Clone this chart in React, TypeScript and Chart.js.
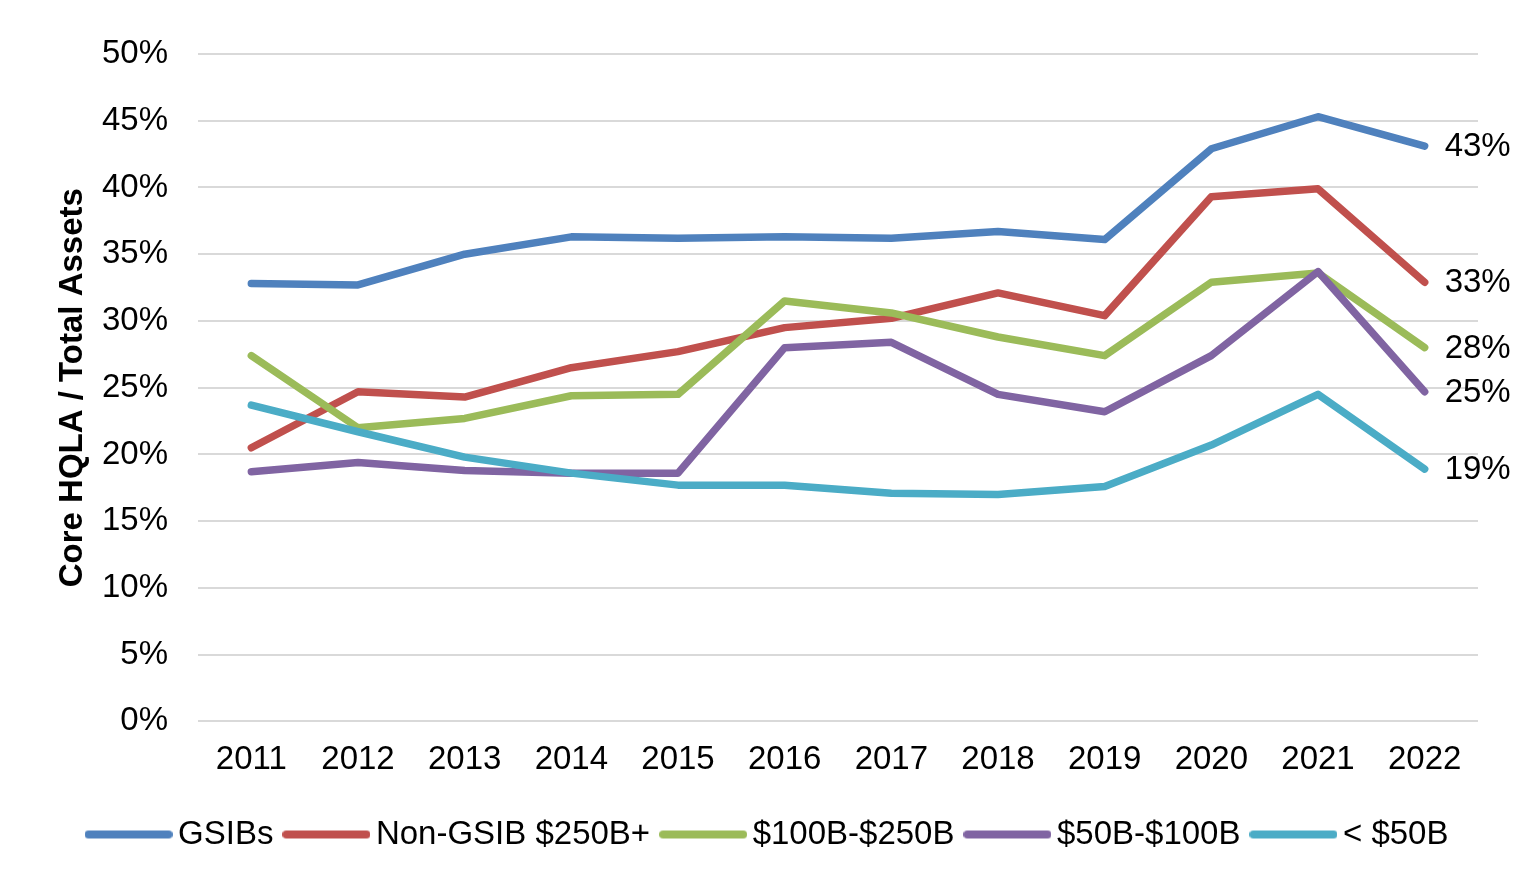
import { useEffect, useRef } from 'react';
import Chart from 'chart.js/auto';

const years = ['2011', '2012', '2013', '2014', '2015', '2016', '2017', '2018', '2019', '2020', '2021', '2022'];

const gsibs = [32.8, 32.7, 35.0, 36.3, 36.2, 36.3, 36.2, 36.7, 36.1, 42.9, 45.3, 43.1];
const nonGsib250 = [20.5, 24.7, 24.3, 26.5, 27.7, 29.5, 30.2, 32.1, 30.4, 39.3, 39.9, 32.9];
const mid100to250 = [27.4, 22.0, 22.7, 24.4, 24.5, 31.5, 30.6, 28.8, 27.4, 32.9, 33.6, 28.0];
const mid50to100 = [18.7, 19.4, 18.8, 18.6, 18.6, 28.0, 28.4, 24.5, 23.2, 27.4, 33.7, 24.7];
const under50 = [23.7, 21.7, 19.8, 18.6, 17.7, 17.7, 17.1, 17.0, 17.6, 20.7, 24.5, 18.9];

const seriesNames = ['GSIBs', 'Non-GSIB $250B+', '$100B-$250B', '$50B-$100B', '< $50B'];
const seriesColors = ['#4F81BD', '#C0504D', '#9BBB59', '#8064A2', '#4BACC6'];
const seriesValues = [gsibs, nonGsib250, mid100to250, mid50to100, under50];

const FONT = '"Liberation Sans", Arial, sans-serif';
const FS = 33;

// legend swatch: a thick round-capped line, a bit wider than the legend box
// so it sits close to its text like Excel does
function swatch(color: string) {
    const c = document.createElement('canvas');
    c.width = 88;
    c.height = 12;
    const g = c.getContext('2d')!;
    g.strokeStyle = color;
    g.lineWidth = 8;
    g.lineCap = 'round';
    g.beginPath();
    g.moveTo(4, 6);
    g.lineTo(84, 6);
    g.stroke();
    return c;
}

// writes the last value of each series to the right of its line end
const endLabels = {
    id: 'endLabels',
    afterLayout(chart: any) {
        // the legend is centred on the whole page in the original, not the padded box
        if (chart.legend) {
            chart.legend.left += 13;
            chart.legend.right += 13;
        }
    },
    afterDatasetsDraw(chart: any) {
        const ctx = chart.ctx;
        ctx.save();
        ctx.font = `${FS}px ${FONT}`;
        ctx.fillStyle = '#000';
        ctx.textAlign = 'left';
        ctx.textBaseline = 'middle';
        chart.data.datasets.forEach((ds: any, i: number) => {
            const meta = chart.getDatasetMeta(i);
            const pt = meta.data[meta.data.length - 1];
            if (!pt) return;
            const v = ds.data[ds.data.length - 1];
            ctx.fillText(`${Math.round(v)}%`, pt.x + 20, pt.y + 1);
        });
        ctx.restore();
    },
};

export default function App() {
    const canvasRef = useRef<HTMLCanvasElement | null>(null);
    useEffect(() => {
        if (!canvasRef.current) return;
        const ctx = canvasRef.current.getContext('2d');
        if (!ctx) return;
        const swatches = seriesColors.map(swatch);
        const chart = new Chart(ctx, {
            type: 'line',
            data: {
                labels: years,
                datasets: seriesNames.map((name, i) => ({
                    label: name,
                    data: seriesValues[i],
                    borderColor: seriesColors[i],
                    backgroundColor: seriesColors[i],
                    borderWidth: 7.5,
                    borderCapStyle: 'round' as const,
                    borderJoinStyle: 'round' as const,
                    pointRadius: 0,
                    tension: 0,
                    order: seriesNames.length - i,
                })),
            },
            options: {
                animation: false,
                responsive: false,
                devicePixelRatio: 1,
                layout: { padding: { left: 40, right: 58, top: 54, bottom: 35 } },
                plugins: {
                    tooltip: { enabled: false },
                    legend: {
                        position: 'bottom',
                        labels: {
                            usePointStyle: true,
                            pointStyleWidth: 66,
                            padding: 20,
                            color: '#000',
                            font: { family: FONT, size: FS },
                            sort: (a: any, b: any) => a.datasetIndex - b.datasetIndex,
                            generateLabels: (c: any) =>
                                Chart.defaults.plugins.legend.labels.generateLabels(c).map((item: any) => ({
                                    ...item,
                                    pointStyle: swatches[item.datasetIndex],
                                })),
                        },
                    },
                },
                scales: {
                    x: {
                        offset: true,
                        grid: { display: false },
                        border: { display: false },
                        afterFit: (scale: any) => { scale.height += 7; },
                        ticks: { color: '#000', font: { family: FONT, size: FS }, padding: 11, maxRotation: 0 },
                    },
                    y: {
                        min: 0,
                        max: 50,
                        afterFit: (scale: any) => { scale.width = 158; },
                        grid: { color: '#D9D9D9', lineWidth: 2, drawTicks: false },
                        border: { display: false },
                        title: {
                            display: true,
                            text: 'Core HQLA / Total Assets',
                            color: '#000',
                            font: { family: FONT, size: FS, weight: 'bold' },
                            padding: { top: 13, bottom: 0 },
                        },
                        ticks: {
                            stepSize: 5,
                            color: '#000',
                            padding: 30,
                            font: { family: FONT, size: FS },
                            callback: (v: any) => `${v}%`,
                        },
                    },
                },
            },
            plugins: [endLabels],
        });
        return () => chart.destroy();
    }, []);

    return (
        <div style={{ position: 'fixed', left: 0, top: 0, width: 1536, height: 896, background: '#fff' }}>
            <canvas ref={canvasRef} width={1536} height={896} />
        </div>
    );
}
